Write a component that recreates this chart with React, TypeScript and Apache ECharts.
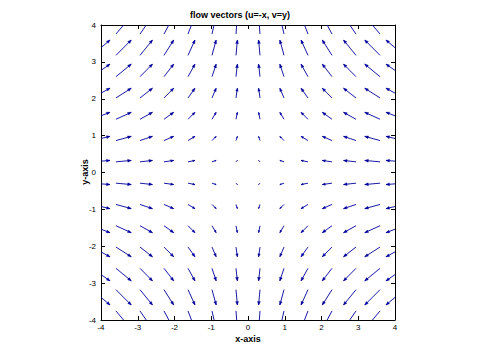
import React, { useEffect, useRef } from "react";
import * as echarts from "echarts";

// Grid positions (14 points from -4 to 4)
const gridX = [-4, -3.385, -2.769, -2.154, -1.538, -0.923, -0.308, 0.308, 0.923, 1.538, 2.154, 2.769, 3.385, 4];
const gridY = [-4, -3.385, -2.769, -2.154, -1.538, -0.923, -0.308, 0.308, 0.923, 1.538, 2.154, 2.769, 3.385, 4];
// u = -x for each column, v = y for each row
const uByColumn = [4, 3.385, 2.769, 2.154, 1.538, 0.923, 0.308, -0.308, -0.923, -1.538, -2.154, -2.769, -3.385, -4];
const vByRow = [-4, -3.385, -2.769, -2.154, -1.538, -0.923, -0.308, 0.308, 0.923, 1.538, 2.154, 2.769, 3.385, 4];
const tickValues = [-4, -3, -2, -1, 0, 1, 2, 3, 4];

const titleText = "flow vectors (u=-x, v=y)";
const xLabel = "x-axis";
const yLabel = "y-axis";

const ARROW_SCALE = 0.123;
const ARROW_COLOR = "#00009a";

export default function App() {
  const ref = useRef<HTMLDivElement>(null);
  useEffect(() => {
    if (!ref.current) return;
    const chart = echarts.init(ref.current, undefined, { renderer: "svg" });
    const data: number[][] = [];
    gridY.forEach((y, r) => {
      gridX.forEach((x, c) => {
        data.push([x, y, uByColumn[c], vByRow[r]]);
      });
    });
    const font = "Liberation Sans, Arial, sans-serif";
    const axisCommon = {
      type: "value" as const,
      min: -4,
      max: 4,
      interval: 1,
      axisLine: { show: true, onZero: false, lineStyle: { color: "#000", width: 1 } },
      axisTick: { show: true, inside: true, length: 4, lineStyle: { color: "#000" } },
      splitLine: { show: false },
    };
    const labelStyle = {
      color: "#000",
      fontSize: 8,
      fontFamily: font,
      formatter: (v: number) => (tickValues.includes(v) ? String(v) : ""),
    };
    chart.setOption({
      animation: false,
      backgroundColor: "#fff",
      grid: { left: 101, top: 25, width: 294, height: 295, containLabel: false },
      xAxis: [
        { ...axisCommon, position: "bottom", axisLabel: { ...labelStyle, margin: 3 } },
        { ...axisCommon, position: "top", axisLabel: { show: false } },
      ],
      yAxis: [
        { ...axisCommon, position: "left", axisLabel: { ...labelStyle, margin: 5 } },
        { ...axisCommon, position: "right", axisLabel: { show: false } },
      ],
      graphic: [
        {
          type: "text",
          left: "center",
          top: 10,
          style: { text: titleText, fill: "#000", font: `bold 9px ${font}` },
        },
        {
          type: "text",
          x: 248,
          y: 339,
          style: { text: xLabel, fill: "#000", font: `bold 9px ${font}`, align: "center", verticalAlign: "middle" },
        },
        {
          type: "text",
          x: 85,
          y: 172,
          rotation: Math.PI / 2,
          style: { text: yLabel, fill: "#000", font: `bold 9px ${font}`, align: "center", verticalAlign: "middle" },
        },
      ],
      series: [
        {
          type: "custom",
          xAxisIndex: 0,
          yAxisIndex: 0,
          encode: { x: 0, y: 1 },
          data,
          renderItem: (params: any, api: any) => {
            const x = api.value(0);
            const y = api.value(1);
            const u = api.value(2);
            const v = api.value(3);
            const p0 = api.coord([x - (ARROW_SCALE * u) / 2, y - (ARROW_SCALE * v) / 2]);
            const p1 = api.coord([x + (ARROW_SCALE * u) / 2, y + (ARROW_SCALE * v) / 2]);
            const dx = p1[0] - p0[0];
            const dy = p1[1] - p0[1];
            const len = Math.hypot(dx, dy) || 1;
            const ux = dx / len;
            const uy = dy / len;
            const hl = Math.min(3.5, len * 0.3);
            const hw = hl * 0.4;
            const bx = p1[0] - ux * hl;
            const by = p1[1] - uy * hl;
            const nx = -uy;
            const ny = ux;
            const cs = params.coordSys;
            return {
              type: "group",
              clipPath: { type: "rect", shape: { x: cs.x, y: cs.y, width: cs.width, height: cs.height } },
              children: [
                {
                  type: "line",
                  shape: { x1: p0[0], y1: p0[1], x2: p1[0], y2: p1[1] },
                  style: { stroke: ARROW_COLOR, lineWidth: 0.9 },
                },
                {
                  type: "polygon",
                  shape: {
                    points: [
                      [p1[0], p1[1]],
                      [bx + nx * hw, by + ny * hw],
                      [bx - nx * hw, by - ny * hw],
                    ],
                  },
                  style: { fill: ARROW_COLOR, stroke: ARROW_COLOR, lineWidth: 0.4 },
                },
              ],
            };
          },
        },
      ],
    });
    return () => chart.dispose();
  }, []);
  return (
    <div
      ref={ref}
      style={{ position: "fixed", left: 0, top: 0, width: 480, height: 360 }}
    />
  );
}
